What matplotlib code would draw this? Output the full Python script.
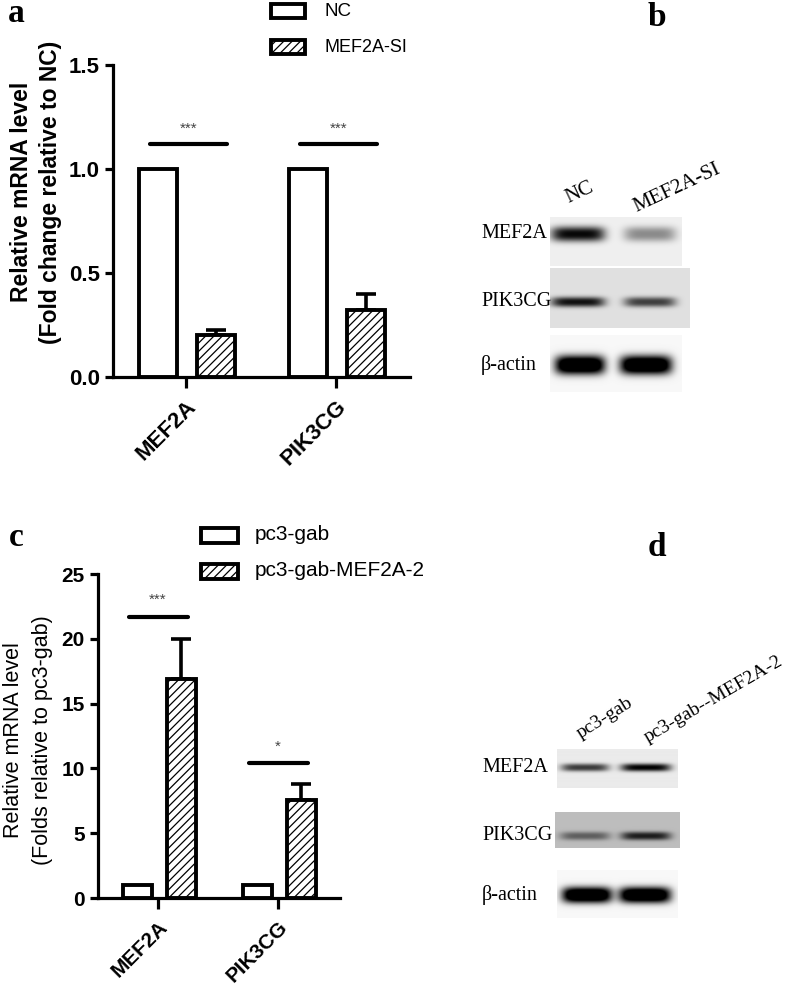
import numpy as np
import matplotlib
matplotlib.use("Agg")
import matplotlib.pyplot as plt
from matplotlib.patches import Rectangle

plt.rcParams['font.family'] = ['Liberation Sans', 'DejaVu Sans']
plt.rcParams['hatch.linewidth'] = 0.9

# ---------------- data ----------------
genes = ['MEF2A', 'PIK3CG']

# panel a
a_groups = ['NC', 'MEF2A-SI']
a_nc = [1.0, 1.0]
a_si = [0.20, 0.32]
a_si_err = [0.025, 0.08]
a_sig_y = [1.12, 1.12]
a_sig_txt = ['***', '***']
a_yticks = [0.0, 0.5, 1.0, 1.5]
a_yticklabels = ['0.0', '0.5', '1.0', '1.5']

# panel c
c_groups = ['pc3-gab', 'pc3-gab-MEF2A-2']
c_ctrl = [1.0, 1.0]
c_oe = [16.9, 7.6]
c_oe_err = [3.1, 1.2]
c_sig_y = [21.7, 10.4]
c_sig_txt = ['***', '*']
c_yticks = [0, 5, 10, 15, 20, 25]

# blots (band darkness per row x lane)
b_rows = ['MEF2A', 'PIK3CG', 'β-actin']
b_lanes = ['NC', 'MEF2A-SI']
b_intensity = [[0.97, 0.42], [0.93, 0.72], [1.4, 1.4]]
d_rows = ['MEF2A', 'PIK3CG', 'β-actin']
d_lanes = ['pc3-gab', 'pc3-gab--MEF2A-2']
d_intensity = [[0.75, 1.0], [0.5, 0.85], [1.4, 1.4]]

W, H = 785, 990
fig = plt.figure(figsize=(W / 100, H / 100), dpi=100)


def fx(x):
    return x / W


def fy(y):
    return 1 - y / H


def rect_ax(x0, y0, x1, y1):
    return fig.add_axes([fx(x0), fy(y1), fx(x1) - fx(x0), fy(y0) - fy(y1)])


SPW = 2.3
HATCH = '////'


def style_bar_axes(ax, fs):
    for s in ['top', 'right']:
        ax.spines[s].set_visible(False)
    for s in ['left', 'bottom']:
        ax.spines[s].set_linewidth(SPW)
    ax.tick_params(axis='both', direction='out', width=SPW, length=6,
                   labelsize=fs)
    for lab in ax.get_yticklabels():
        lab.set_fontweight('bold')


# ---------------- panel a ----------------
axa = rect_ax(113, 65, 410, 377)
xa = np.arange(len(genes))
wa = 0.253
axa.bar(xa - 0.187, a_nc, width=wa, facecolor='white', edgecolor='black',
        linewidth=2.8, zorder=3)
axa.bar(xa + 0.2, a_si, width=wa, facecolor='white', edgecolor='black',
        linewidth=2.8, hatch=HATCH, zorder=3)
axa.errorbar(xa + 0.2, a_si, yerr=[np.zeros(len(a_si)), a_si_err], fmt='none',
             ecolor='black', elinewidth=2.6, capsize=7, capthick=2.6, zorder=2)
for i in range(len(genes)):
    axa.plot([xa[i] - 0.24, xa[i] + 0.27], [a_sig_y[i]] * 2, color='black',
             lw=3, solid_capstyle='round', zorder=3)
    axa.text(xa[i] + 0.02, a_sig_y[i] + 0.075, a_sig_txt[i], ha='center',
             va='center', fontsize=11, color='#444444')
axa.set_xlim(-0.487, 1.493)
axa.set_ylim(0, 1.5)
axa.set_yticks(a_yticks)
axa.set_yticklabels(a_yticklabels)
axa.set_xticks(xa)
axa.set_xticklabels(genes, rotation=45, ha='right', rotation_mode='anchor',
                    fontweight='bold')
style_bar_axes(axa, 16)
axa.tick_params(axis='x', length=8, pad=6)

fig.text(fx(36), fy(192), 'Relative mRNA level\n(Fold change relative to NC)',
         rotation=90, ha='center', va='center', fontsize=16.5, fontweight='bold',
         linespacing=1.3, multialignment='center')

# legend a
fig.add_artist(Rectangle((fx(271), fy(18)), fx(34), 14 / H, transform=fig.transFigure,
                         facecolor='white', edgecolor='black', lw=2.8))
fig.add_artist(Rectangle((fx(271), fy(54)), fx(34), 14 / H, transform=fig.transFigure,
                         facecolor='white', edgecolor='black', lw=2.8, hatch=HATCH))
fig.text(fx(325), fy(12), a_groups[0], ha='left', va='center', fontsize=13.5)
fig.text(fx(325), fy(47), a_groups[1], ha='left', va='center', fontsize=13,
         family=['Liberation Sans Narrow', 'Liberation Sans'])

# ---------------- panel c ----------------
axc = rect_ax(98, 574, 340, 898)
xc = np.arange(len(genes))
wc = 0.24
axc.bar(xc - 0.17, c_ctrl, width=wc, facecolor='white', edgecolor='black',
        linewidth=2.8, zorder=3)
axc.bar(xc + 0.195, c_oe, width=wc, facecolor='white', edgecolor='black',
        linewidth=2.8, hatch=HATCH, zorder=3)
axc.errorbar(xc + 0.195, c_oe, yerr=[np.zeros(len(c_oe)), c_oe_err], fmt='none',
             ecolor='black', elinewidth=2.6, capsize=7, capthick=2.6, zorder=2)
for i in range(len(genes)):
    axc.plot([xc[i] - 0.24, xc[i] + 0.25], [c_sig_y[i]] * 2, color='black',
             lw=3, solid_capstyle='round', zorder=3)
    axc.text(xc[i] + 0.0, c_sig_y[i] + 1.3, c_sig_txt[i], ha='center',
             va='center', fontsize=11, color='#444444')
axc.set_xlim(-0.5, 1.517)
axc.set_ylim(0, 25)
axc.set_yticks(c_yticks)
axc.set_xticks(xc)
axc.set_xticklabels(genes, rotation=45, ha='right', rotation_mode='anchor',
                    fontweight='bold')
style_bar_axes(axc, 15)
axc.tick_params(axis='x', length=8, pad=6)

fig.text(fx(28), fy(740), 'Relative mRNA level\n(Folds relative to pc3-gab)',
         rotation=90, ha='center', va='center', fontsize=15.5,
         linespacing=1.5, multialignment='center')

# legend c
fig.add_artist(Rectangle((fx(201), fy(543)), fx(37), 15 / H, transform=fig.transFigure,
                         facecolor='white', edgecolor='black', lw=2.8))
fig.add_artist(Rectangle((fx(201), fy(579)), fx(37), 15 / H, transform=fig.transFigure,
                         facecolor='white', edgecolor='black', lw=2.8, hatch=HATCH))
fig.text(fx(255), fy(535), c_groups[0], ha='left', va='center', fontsize=15)
fig.text(fx(255), fy(571), c_groups[1], ha='left', va='center', fontsize=15)


# ---------------- blots ----------------
def draw_blot(ax, strips, intens):
    """strips: list of (x0, x1, y0, y1, bg, cy, hh, lane_cx, lane_hw)"""
    for (x0, x1, y0, y1, bg, cy, hh, lcx, lhw), row in zip(strips, intens):
        xs = np.linspace(x0, x1, int((x1 - x0) * 3))
        ys = np.linspace(y0, y1, int((y1 - y0) * 3))
        X, Y = np.meshgrid(xs, ys)
        dark = np.zeros_like(X)
        for cx, hw, iv in zip(lcx, lhw, row):
            shape = np.exp(-np.abs((X - cx) / hw) ** 5) * \
                np.exp(-np.abs((Y - cy) / hh) ** 2.5)
            dark += iv * shape
        img = np.clip(bg * (1 - dark), 0, 1)
        ax.imshow(img, cmap='gray', vmin=0, vmax=1, extent=(x0, x1, y1, y0),
                  interpolation='bilinear', aspect='auto')


blot_font = dict(family=['Liberation Serif', 'DejaVu Serif'])

# panel b
axb = rect_ax(540, 205, 700, 400)
axb.set_xlim(540, 700)
axb.set_ylim(400, 205)
axb.axis('off')
b_strips = [
    (550, 682, 217, 266, 0.94, 234, 7.5, [578, 650], [27, 26]),
    (550, 690, 268, 328, 0.88, 302, 5.0, [578, 650], [27, 26]),
    (550, 682, 335, 392, 0.97, 365, 9.5, [580, 646], [25, 26]),
]
draw_blot(axb, b_strips, b_intensity)
for (s, name) in zip(b_strips, b_rows):
    fig.text(fx(481), fy(s[5]), name, ha='left', va='center', fontsize=14.5, **blot_font)
fig.text(fx(580), fy(193), b_lanes[0], ha='center', va='center', fontsize=15,
         rotation=25, **blot_font)
fig.text(fx(677), fy(188), b_lanes[1], ha='center', va='center', fontsize=15,
         rotation=25, **blot_font)

# panel d
axd = rect_ax(540, 740, 700, 930)
axd.set_xlim(540, 700)
axd.set_ylim(930, 740)
axd.axis('off')
d_strips = [
    (557, 678, 750, 788, 0.92, 768, 3.8, [585, 646], [24, 25]),
    (555, 680, 812, 848, 0.74, 836, 4.2, [585, 646], [25, 25]),
    (557, 678, 870, 918, 0.97, 895, 8.0, [587, 645], [25, 26]),
]
draw_blot(axd, d_strips, d_intensity)
for (s, name) in zip(d_strips, d_rows):
    fig.text(fx(482), fy(s[5]), name, ha='left', va='center', fontsize=14.5, **blot_font)
fig.text(fx(605), fy(718), d_lanes[0], ha='center', va='center', fontsize=14,
         rotation=32, **blot_font)
fig.text(fx(713), fy(699), d_lanes[1], ha='center', va='center', fontsize=14,
         rotation=30, **blot_font)

# panel letters
for lab, (x, y) in zip(['a', 'b', 'c', 'd'], [(16, 14), (657, 17), (16, 538), (657, 547)]):
    fig.text(fx(x), fy(y), lab, ha='center', va='center', fontsize=24,
             fontweight='bold', **blot_font)

fig.savefig('out.png', dpi=100)
